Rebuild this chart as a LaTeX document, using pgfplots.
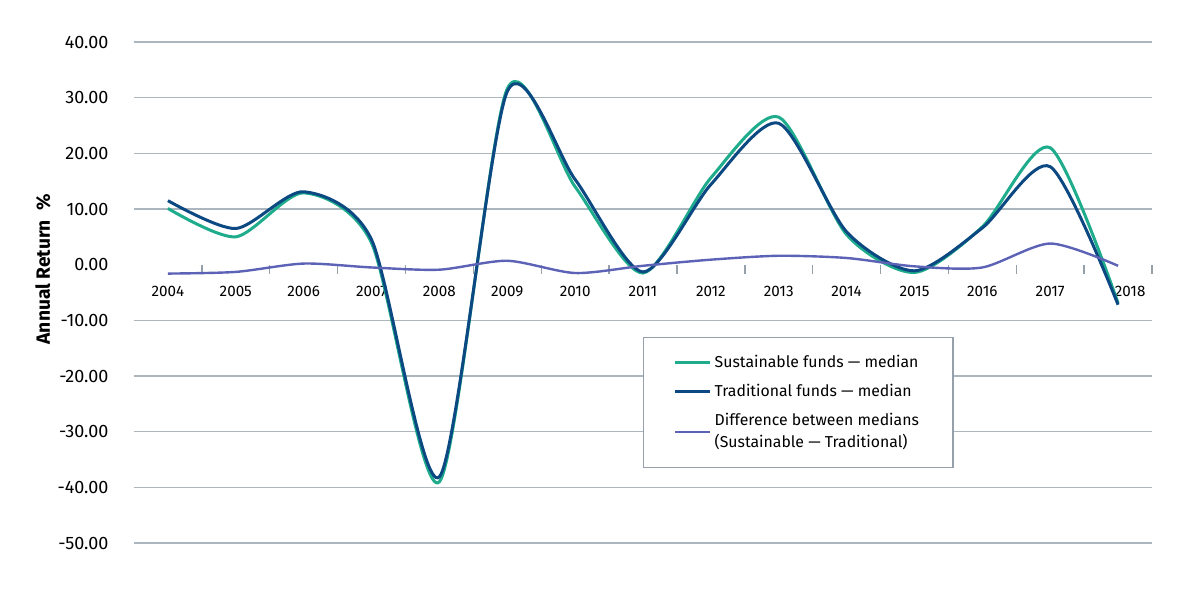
\documentclass[border=0pt]{standalone}
\usepackage{pgfplots}
\pgfplotsset{compat=1.18}
\usepackage{fontspec}
\setmainfont{Fira Sans}
\definecolor{susgreen}{RGB}{30,172,140}
\definecolor{tradnavy}{RGB}{12,72,130}
\definecolor{diffpurple}{RGB}{92,98,182}
\definecolor{gridgray}{RGB}{172,182,190}
\definecolor{tickgray}{RGB}{150,160,170}
\begin{document}
\begin{tikzpicture}
\useasboundingbox (-67pt,-26pt) rectangle (533pt,271.5pt);
\begin{axis}[
  at={(0,0)}, anchor=south west,
  scale only axis, width=509pt, height=250.5pt,
  xmin=-0.5, xmax=14.5, ymin=-50, ymax=40,
  axis x line*=middle, axis y line*=left,
  x axis line style={draw=none}, y axis line style={draw=none},
  xtick={0,...,14},
  xticklabels={2004,2005,2006,2007,2008,2009,2010,2011,2012,2013,2014,2015,2016,2017,\hspace{12pt}2018},
  minor xtick={0.5,1.5,...,14.5},
  major x tick style={draw=none},
  minor x tick style={tickgray, line width=0.7pt},
  minor tick length=4.5pt,
  tick align=outside,
  xticklabel style={yshift=-3pt, font=\fontsize{7.6}{9}\selectfont},
  ytick={-50,-40,-30,-20,-10,10,20,30,40},
  extra y ticks={0}, extra y tick style={grid=none},
  ymajorgrids, major grid style={gridgray, line width=0.8pt},
  major y tick style={draw=none},
  yticklabel style={font=\fontsize{9}{10}\selectfont, xshift=-5pt},
  yticklabel={\pgfmathprintnumber[fixed,fixed zerofill,precision=2,assume math mode=true]{\tick}},
  ylabel={\textbf{Annual Return\hspace{5pt}\%}},
  ylabel style={at={(axis description cs:-0.0894,0.547)}, anchor=center, font=\fontsize{9.6}{11}\selectfont},
  clip=false,
  legend style={at={(0.5,0.411)}, anchor=north west, draw=tickgray, line width=0.6pt,
    inner xsep=15pt, inner ysep=6.5pt, row sep=3pt,
    font=\fontsize{7.9}{11}\selectfont, cells={align=left}},
  legend cell align=left,
  every axis plot/.append style={smooth, tension=0.45, no markers},
]
\addplot[susgreen, line width=1.5pt] coordinates {
(0,10.1) (1,5.0) (2,12.9) (3,3.9) (4,-39.0) (5,31.6) (6,14.0) (7,-1.5)
(8,15.6) (9,26.5) (10,5.4) (11,-1.4) (12,6.8) (13,21.0) (14,-6.9)};
\addlegendentry{Sustainable funds — median}
\addplot[tradnavy, line width=1.5pt] coordinates {
(0,11.5) (1,6.5) (2,13.1) (3,4.5) (4,-38.1) (5,31.1) (6,15.3) (7,-1.3)
(8,14.4) (9,25.4) (10,5.9) (11,-1.1) (12,6.6) (13,17.6) (14,-7.2)};
\addlegendentry{Traditional funds — median}
\addplot[diffpurple, line width=1.2pt] coordinates {
(0,-1.6) (1,-1.3) (2,0.2) (3,-0.5) (4,-0.9) (5,0.7) (6,-1.5) (7,-0.2)
(8,0.9) (9,1.6) (10,1.2) (11,-0.3) (12,-0.5) (13,3.8) (14,-0.2)};
\addlegendentry{Difference between medians\\(Sustainable — Traditional)}
\end{axis}
\end{tikzpicture}
\end{document}
